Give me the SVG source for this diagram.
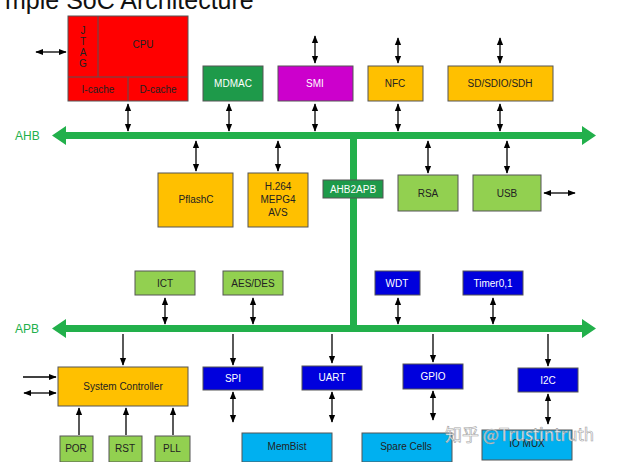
<svg xmlns="http://www.w3.org/2000/svg" width="627" height="462" viewBox="0 0 627 462">
<style>
.b{stroke:#555;stroke-width:1}
.t{font-family:"Liberation Sans",Arial,sans-serif;font-size:10px;text-anchor:middle}
.w{fill:#fff}
.k{fill:#222}
.c line{stroke:#000;stroke-width:1.3}
</style>
<defs>
<marker id="a" viewBox="0 0 10 10" refX="9" refY="5" markerWidth="6" markerHeight="6" orient="auto-start-reverse"><path d="M0,1L10,5L0,9z" fill="#000"/></marker>
</defs>
<rect width="627" height="462" fill="#fff"/>
<text x="5" y="9" font-family="Liberation Sans,Arial,sans-serif" font-size="25" fill="#111">mple SoC Architecture</text>
<g id="buses" fill="#22b04b">
<rect x="62" y="132" width="524" height="7"/><path d="M52,135.5L66,126V145z M596,135.5L582,126V145z"/>
<rect x="62" y="325" width="524" height="7"/><path d="M52,328.5L66,319V338z M596,328.5L582,319V338z"/>
<rect x="350" y="135" width="7" height="193"/>
<text x="15" y="140" font-family="Liberation Sans,Arial,sans-serif" font-size="12">AHB</text>
<text x="15" y="333" font-family="Liberation Sans,Arial,sans-serif" font-size="12">APB</text>
</g>
<g class="c" marker-start="url(#a)" marker-end="url(#a)">
<line x1="36" y1="52" x2="66" y2="52"/>
<line x1="128" y1="104" x2="128" y2="131"/>
<line x1="229" y1="104" x2="229" y2="131"/>
<line x1="315" y1="36" x2="315" y2="63"/>
<line x1="315" y1="104" x2="315" y2="131"/>
<line x1="398" y1="38" x2="398" y2="63"/>
<line x1="398" y1="104" x2="398" y2="131"/>
<line x1="500" y1="38" x2="500" y2="63"/>
<line x1="500" y1="104" x2="500" y2="131"/>
<line x1="196" y1="141" x2="196" y2="171"/>
<line x1="278" y1="141" x2="278" y2="171"/>
<line x1="428" y1="141" x2="428" y2="173"/>
<line x1="507" y1="141" x2="507" y2="173"/>
<line x1="544" y1="193" x2="575" y2="193"/>
<line x1="165" y1="298" x2="165" y2="324"/>
<line x1="253" y1="298" x2="253" y2="324"/>
<line x1="398" y1="298" x2="398" y2="324"/>
<line x1="493" y1="298" x2="493" y2="324"/>
<line x1="24" y1="393" x2="56" y2="393"/>
<line x1="233" y1="392" x2="233" y2="422"/>
<line x1="332" y1="392" x2="332" y2="422"/>
<line x1="433" y1="391" x2="433" y2="420"/>
<line x1="548" y1="394" x2="548" y2="424"/>
</g>
<g class="c" marker-end="url(#a)">
<line x1="23" y1="377" x2="56" y2="377"/>
<line x1="123" y1="334" x2="123" y2="365"/>
<line x1="233" y1="334" x2="233" y2="365"/>
<line x1="332" y1="334" x2="332" y2="363"/>
<line x1="433" y1="334" x2="433" y2="362"/>
<line x1="548" y1="334" x2="548" y2="366"/>
<line x1="79" y1="435" x2="79" y2="408"/>
<line x1="126" y1="435" x2="126" y2="408"/>
<line x1="173" y1="435" x2="173" y2="408"/>
</g>
<g id="cpu">
<rect x="68" y="16" width="120" height="85" fill="#ff0000" class="b"/>
<line x1="98" y1="16" x2="98" y2="77" stroke="#555"/><line x1="68" y1="77" x2="188" y2="77" stroke="#555"/><line x1="128" y1="77" x2="128" y2="101" stroke="#555"/>
<text x="143" y="48" class="t k" font-size="15">CPU</text>
<text x="83" y="34" class="t k" font-size="8">J</text><text x="83" y="45" class="t k" font-size="8">T</text><text x="83" y="56" class="t k" font-size="8">A</text><text x="83" y="67" class="t k" font-size="8">G</text>
<text x="98" y="93" class="t k" font-size="8.5">I-cache</text><text x="158" y="93" class="t k" font-size="8.5">D-cache</text>
</g>
<g id="mdmac"><rect x="203" y="66" width="60" height="35" fill="#1e9a4a" class="b"/><text x="233" y="87" class="t w">MDMAC</text></g>
<g id="smi"><rect x="278" y="66" width="75" height="35" fill="#cc00cc" class="b"/><text x="315" y="87" class="t w">SMI</text></g>
<g id="nfc"><rect x="368" y="66" width="55" height="35" fill="#ffc000" class="b"/><text x="395" y="87" class="t k">NFC</text></g>
<g id="sd"><rect x="448" y="66" width="105" height="35" fill="#ffc000" class="b"/><text x="500" y="87" class="t k">SD/SDIO/SDH</text></g>
<g id="pflash"><rect x="158" y="173" width="75" height="54" fill="#ffc000" class="b"/><text x="196" y="203" class="t k">PflashC</text></g>
<g id="h264"><rect x="248" y="173" width="60" height="54" fill="#ffc000" class="b"/><text x="278" y="190" class="t k">H.264</text><text x="278" y="203" class="t k">MEPG4</text><text x="278" y="216" class="t k">AVS</text></g>
<g id="ahb2apb"><rect x="323" y="180" width="60" height="18" fill="#1e9a4a" class="b"/><text x="353" y="193" class="t w" font-size="9">AHB2APB</text></g>
<g id="rsa"><rect x="398" y="175" width="60" height="36" fill="#92d050" class="b"/><text x="428" y="197" class="t k">RSA</text></g>
<g id="usb"><rect x="473" y="175" width="68" height="36" fill="#92d050" class="b"/><text x="507" y="197" class="t k">USB</text></g>
<g id="ict"><rect x="135" y="271" width="60" height="24" fill="#92d050" class="b"/><text x="165" y="287" class="t k">ICT</text></g>
<g id="aes"><rect x="223" y="271" width="60" height="24" fill="#92d050" class="b"/><text x="253" y="287" class="t k">AES/DES</text></g>
<g id="wdt"><rect x="375" y="271" width="45" height="24" fill="#0000dd" class="b"/><text x="397" y="287" class="t w">WDT</text></g>
<g id="timer"><rect x="463" y="271" width="60" height="24" fill="#0000dd" class="b"/><text x="493" y="287" class="t w">Timer0,1</text></g>
<g id="sysctl"><rect x="58" y="367" width="130" height="39" fill="#ffc000" class="b"/><text x="123" y="390" class="t k">System Controller</text></g>
<g id="spi"><rect x="203" y="367" width="60" height="23" fill="#0000dd" class="b"/><text x="233" y="382" class="t w">SPI</text></g>
<g id="uart"><rect x="302" y="366" width="60" height="24" fill="#0000dd" class="b"/><text x="332" y="381" class="t w">UART</text></g>
<g id="gpio"><rect x="403" y="364" width="60" height="25" fill="#0000dd" class="b"/><text x="433" y="380" class="t w">GPIO</text></g>
<g id="i2c"><rect x="518" y="368" width="60" height="24" fill="#0000dd" class="b"/><text x="548" y="384" class="t w">I2C</text></g>
<g id="por"><rect x="60" y="436" width="33" height="26" fill="#92d050" class="b"/><text x="76" y="452" class="t k">POR</text></g>
<g id="rst"><rect x="109" y="436" width="33" height="26" fill="#92d050" class="b"/><text x="125" y="452" class="t k">RST</text></g>
<g id="pll"><rect x="155" y="436" width="35" height="26" fill="#92d050" class="b"/><text x="172" y="452" class="t k">PLL</text></g>
<g id="membist"><rect x="242" y="433" width="90" height="29" fill="#00b0f0" class="b"/><text x="287" y="450" class="t k">MemBist</text></g>
<g id="spare"><rect x="362" y="433" width="90" height="29" fill="#00b0f0" class="b"/><text x="406" y="450" class="t k">Spare Cells</text></g>
<g id="iomux"><rect x="482" y="430" width="90" height="30" fill="#00b0f0" class="b"/><text x="527" y="447" class="t k">IO MUX</text></g>
<text x="445" y="441" font-family="Noto Sans CJK SC,sans-serif" font-size="17" fill="#fff" stroke="#999" stroke-width="0.6" opacity="0.9">知乎 @Trustintruth</text>
</svg>
